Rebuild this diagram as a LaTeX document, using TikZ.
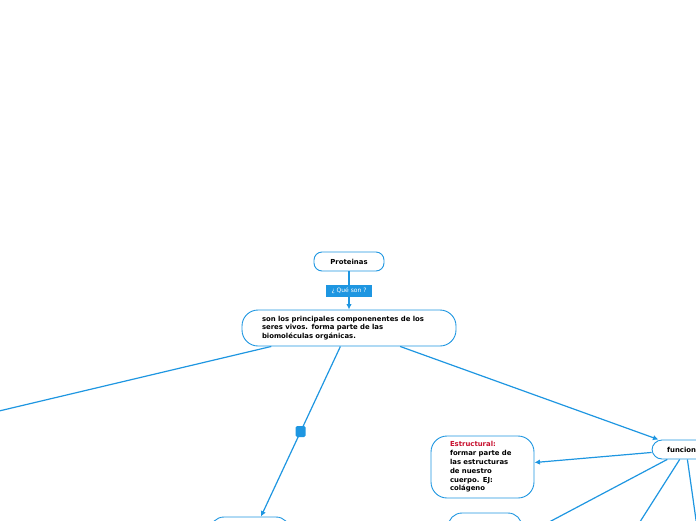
\documentclass[tikz,border=0pt]{standalone}
\usepackage{fontspec}
\setmainfont{DejaVu Sans}
\usetikzlibrary{arrows.meta,positioning}
\definecolor{mmblue}{RGB}{30,150,225}
\definecolor{mmred}{RGB}{200,16,46}

\begin{document}
\begin{tikzpicture}[x=1pt,y=-1pt,
        every node/.style={font=\bfseries\fontsize{6.9}{8.8}\selectfont},
        topic/.style={draw=mmblue,line width=0.9pt,fill=white,rounded corners=#1},
        topic/.default=8pt,
        link/.style={mmblue,line width=1.2pt,-{Latex[length=5.5pt,width=5.5pt]}},
        tag/.style={fill=mmblue,text=white,font=\fontsize{6}{7}\selectfont,inner sep=1pt,minimum width=46pt,minimum height=12pt},
        sq/.style={fill=mmblue,minimum width=10pt,minimum height=11pt,inner sep=0pt,rounded corners=1.5pt}]

        % Define canvas
        \useasboundingbox (0,0) rectangle (696,520);
        \clip (0,0) rectangle (696,520);

        % Define topics
        \node[topic, minimum width=70pt, minimum height=19pt] (prot) at (349,261.5) {Proteinas};
        \node[topic=16pt, text width=174pt, inner xsep=20pt, minimum height=36pt, align=left] (main) at (349,328)
            {son los principales componenentes de los\\ seres vivos. forma parte de las\\ biomoléculas orgánicas.};
        \node[topic=10pt, minimum width=68pt, minimum height=19pt] (func) at (686,449.5) {funciones};
        \node[topic=16pt, text width=65pt, minimum width=103pt, minimum height=62pt, align=left] (estr) at (482.5,467)
            {{\color{mmred}Estructural:}\\ formar parte de\\ las estructuras\\ de nuestro\\ cuerpo. EJ:\\ colágeno};
        \node[topic=14pt, minimum width=80pt, minimum height=46pt] (sub) at (250,540) {};
        \node[topic=14pt, minimum width=74pt, minimum height=86pt] (low) at (485,556) {};

        % Ends outside the frame
        \coordinate (left) at (-60,425);
        \coordinate (fa) at (630,537.5);
        \coordinate (fb) at (698.5,537.5);

        % Draw connecting lines
        \draw[link] (prot) -- node[tag] {¿ Qué son ?} (main);
        \draw[link] (main) -- (left);
        \draw[link] (main) -- node[sq] {} (sub);
        \draw[link] (main) -- (func);
        \foreach \t in {estr, low, fa, fb}
            \draw[link] (func) -- (\t);
\end{tikzpicture}
\end{document}
